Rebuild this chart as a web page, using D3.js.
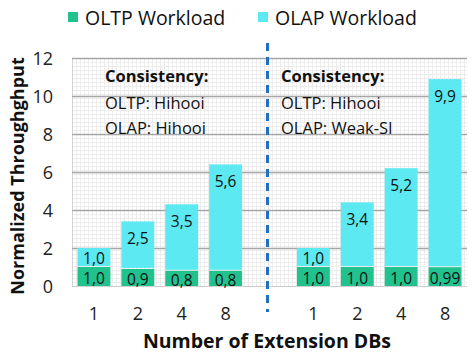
<!DOCTYPE html>
<html><head><meta charset="utf-8">
<script src="https://cdn.jsdelivr.net/npm/d3@7/dist/d3.min.js"></script>
<style>body{margin:0;background:#fff}svg{display:block}</style>
</head><body>
<svg id="c" width="474" height="359"></svg>
<script>
const categories = ["1","2","4","8","gap","1b","2b","4b","8b"];
const tickLabels = ["1","2","4","8","","1","2","4","8"];
const oltp = [1.0, 0.9, 0.8, 0.8, null, 1.0, 1.0, 1.0, 0.99];
const olap = [1.0, 2.5, 3.5, 5.6, null, 1.0, 3.4, 5.2, 9.9];
const oltpLabels = ["1,0","0,9","0,8","0,8","","1,0","1,0","1,0","0,99"];
const olapLabels = ["1,0","2,5","3,5","5,6","","1,0","3,4","5,2","9,9"];
const yTicks = [0,2,4,6,8,10,12];
const seriesNames = ["OLTP Workload","OLAP Workload"];
const notes = [["Consistency:","OLTP: Hihooi","OLAP: Hihooi"],["Consistency:","OLTP: Hihooi","OLAP: Weak-SI"]];

const font = "'Open Sans', sans-serif";
const green = "#21c28e", cyan = "#5ce9f1";
const svg = d3.select("#c");
const L = 72, R = 467, T = 58, B = 286;
const x = d3.scaleBand().domain(categories).range([L, R]).paddingInner(0.25).paddingOuter(0.125);
const y = d3.scaleLinear().domain([0, 12]).range([B, T]);

// fine grid pattern (plot area fill)
const defs = svg.append("defs");
const pat = defs.append("pattern").attr("id","g").attr("width",4).attr("height",4).attr("patternUnits","userSpaceOnUse").attr("x",L).attr("y",T);
pat.append("path").attr("d","M0,0.5H4M0.5,0V4").attr("stroke","#ececec").attr("stroke-width",1).attr("fill","none");
svg.append("rect").attr("x",L).attr("y",T).attr("width",R-L).attr("height",B-T).attr("fill","url(#g)");
svg.append("line").attr("x1",L+0.5).attr("x2",L+0.5).attr("y1",T).attr("y2",B).attr("stroke","#d4d4d4");

// major gridlines
svg.append("g").selectAll("line").data(yTicks.filter(d=>d>0)).join("line")
  .attr("x1",L).attr("x2",R).attr("y1",d=>Math.round(y(d))+0.5).attr("y2",d=>Math.round(y(d))+0.5)
  .attr("stroke","#a6a6a6").attr("stroke-width",1.3);
svg.append("line").attr("x1",L).attr("x2",R).attr("y1",B+0.5).attr("y2",B+0.5).attr("stroke","#d0d0d0");

// notes
notes.forEach((n,i)=>{
  const x0 = i===0 ? 105 : 281;
  const g = svg.append("g").attr("font-family",font).attr("font-size",16.5).attr("fill","#111");
  g.append("text").attr("x",x0).attr("y",82).attr("font-weight","bold").text(n[0]);
  g.append("text").attr("x",x0).attr("y",109).text(n[1]);
  g.append("text").attr("x",x0).attr("y",134).text(n[2]);
});

// bars
const idx = d3.range(categories.length).filter(i=>oltp[i]!==null);
const bw = x.bandwidth();
svg.append("g").selectAll("rect").data(idx).join("rect")
  .attr("x",i=>x(categories[i])).attr("width",bw)
  .attr("y",i=>y(oltp[i])).attr("height",i=>y(0)-y(oltp[i]))
  .attr("fill",green);
svg.append("g").selectAll("rect").data(idx).join("rect")
  .attr("x",i=>x(categories[i])).attr("width",bw)
  .attr("y",i=>y(oltp[i]+olap[i])).attr("height",i=>y(oltp[i])-y(oltp[i]+olap[i])-1)
  .attr("fill",cyan);

// labels
const lg = svg.append("g").attr("font-family",font).attr("font-size",15.5).attr("fill","#111").attr("text-anchor","middle").attr("dominant-baseline","central");
lg.selectAll("text.a").data(idx).join("text").attr("class","a")
  .attr("x",i=>x(categories[i])+bw/2)
  .attr("y",i=>{const t=y(oltp[i]+olap[i]), b=y(oltp[i]); return Math.min(t+17,(t+b)/2);})
  .text(i=>olapLabels[i]);
lg.selectAll("text.b").data(idx).join("text").attr("class","b")
  .attr("x",i=>x(categories[i])+bw/2)
  .attr("y",i=>(y(oltp[i])+y(0))/2+1.5)
  .text(i=>oltpLabels[i]);

// dashed separator
const sx = x("gap")+bw/2-2;
svg.append("line").attr("x1",sx).attr("x2",sx).attr("y1",43).attr("y2",312)
  .attr("stroke","#1f6fc7").attr("stroke-width",3).attr("stroke-dasharray","8,6");

// y axis ticks
svg.append("g").attr("font-family",font).attr("font-size",18).attr("fill","#222").attr("text-anchor","end")
  .selectAll("text").data(yTicks).join("text")
  .attr("x",53).attr("y",d=>y(d)).attr("dominant-baseline","central").text(d=>d);
// x ticks
svg.append("g").attr("font-family",font).attr("font-size",18).attr("fill","#222").attr("text-anchor","middle")
  .selectAll("text").data(categories).join("text")
  .attr("x",d=>x(d)+bw/2).attr("y",313).attr("dominant-baseline","central").text((d,i)=>tickLabels[i]);

// axis titles
svg.append("text").attr("transform",`translate(17,${(T+B)/2+4}) rotate(-90)`).attr("text-anchor","middle")
  .attr("dominant-baseline","central").attr("font-family",font).attr("font-weight","bold").attr("font-size",18).attr("fill","#111")
  .text("Normalized Throughghput");
svg.append("text").attr("x",267).attr("y",340).attr("text-anchor","middle").attr("dominant-baseline","central")
  .attr("font-family",font).attr("font-weight","bold").attr("font-size",19.5).attr("fill","#111")
  .text("Number of Extension DBs");

// legend
const leg = svg.append("g").attr("font-family",font).attr("font-size",19.5).attr("fill","#111");
[[68,green],[258,cyan]].forEach(([lx,c],i)=>{
  leg.append("rect").attr("x",lx).attr("y",12).attr("width",10).attr("height",10).attr("fill",c);
  leg.append("text").attr("x",lx+17).attr("y",17).attr("dominant-baseline","central").text(seriesNames[i]);
});
</script>
</body></html>
